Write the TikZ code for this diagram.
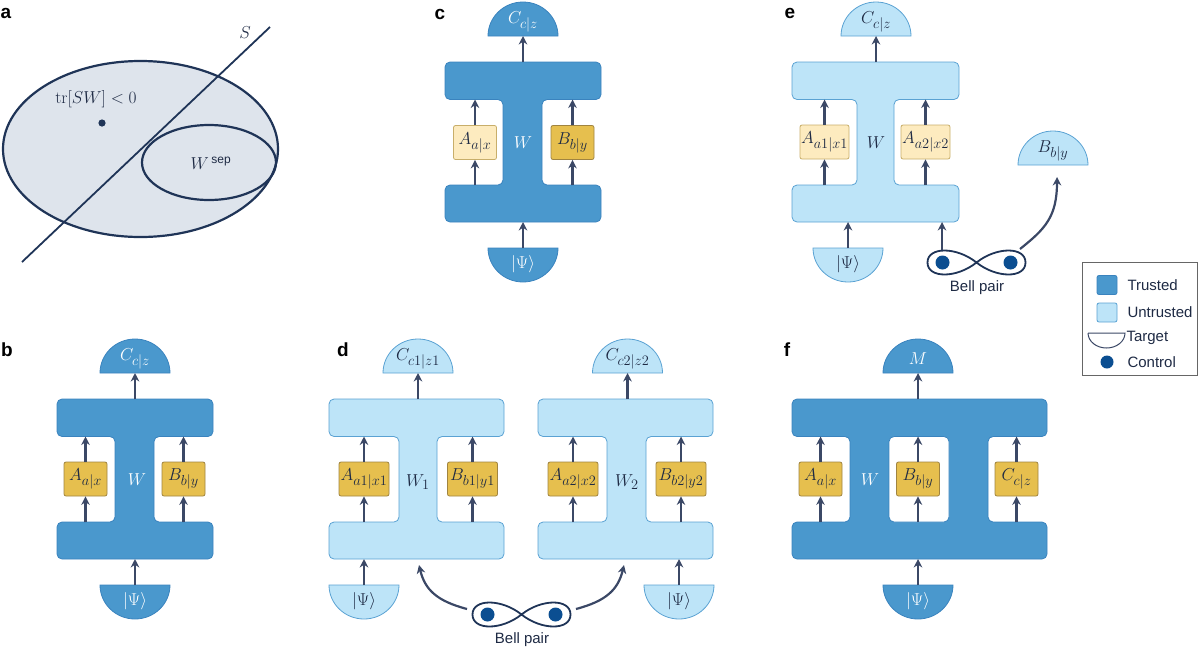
\documentclass[tikz,border=0pt]{standalone}
\usepackage{fontspec}
\setsansfont{Liberation Sans}
\usepackage{tikz}
\usetikzlibrary{arrows.meta}
\DeclareMathSizes{17}{17.28}{14.4}{12}

\definecolor{trust}{HTML}{4A98CD}
\definecolor{trustline}{HTML}{3A83BE}
\definecolor{untrust}{HTML}{BDE4F8}
\definecolor{untrustline}{HTML}{5AA2D3}
\definecolor{gold}{HTML}{E6BF4E}
\definecolor{goldline}{HTML}{A08440}
\definecolor{pale}{HTML}{FDEBBF}
\definecolor{paleline}{HTML}{C8AE6A}
\definecolor{arrowc}{HTML}{3B4866}
\definecolor{navy}{HTML}{1F3457}
\definecolor{dotc}{HTML}{0B4E91}
\definecolor{afill}{HTML}{DEE4EC}
\definecolor{inkdark}{HTML}{1E2A44}

% I-shaped process: style, left, right, top, stem left, stem right, name
\newcommand{\ibeam}[7]{%
  \path[#1, rounded corners=5pt] (#2,#4) -- (#3,#4) -- (#3,#4+37.5) -- (#6,#4+37.5)
    -- (#6,#4+123) -- (#3,#4+123) -- (#3,#4+160) -- (#2,#4+160) -- (#2,#4+123)
    -- (#5,#4+123) -- (#5,#4+37.5) -- (#2,#4+37.5) -- cycle;
  \coordinate (#7o) at (#2,#4);
  \coordinate (#7t) at (#2,#4+37.5);
  \coordinate (#7b) at (#2,#4+123);
  \coordinate (#7i) at (#2,#4+160);}
% half discs: style, name, centre x, chord y, text
\newcommand{\domeup}[5]{%
  \path[#1] (#3-35,#4) arc[start angle=180, end angle=360, x radius=35, y radius=34] -- cycle;
  \coordinate (#2-b) at (#3,#4);
  \node[#1, draw=none, fill=none] (#2) at (#3,#4-14) {#5};}
\newcommand{\domedn}[5]{%
  \path[#1] (#3-35,#4) arc[start angle=180, end angle=0, x radius=35, y radius=34] -- cycle;
  \coordinate (#2-b) at (#3,#4);
  \node[#1, draw=none, fill=none] (#2) at (#3,#4+16) {#5};}
% figure-eight with two dots: name, centre x, centre y
\newcommand{\bellpair}[3]{%
  \coordinate (#1) at (#2,#3);
  \draw[navy, line width=1.8pt] (#2,#3) .. controls (#2+20,#3-16) and (#2+49,#3-16) .. (#2+49,#3)
     .. controls (#2+49,#3+16) and (#2+20,#3+16) .. (#2,#3)
     .. controls (#2-20,#3-16) and (#2-49,#3-16) .. (#2-49,#3)
     .. controls (#2-49,#3+16) and (#2-20,#3+16) .. (#2,#3);
  \fill[dotc] (#2-34,#3) circle[radius=7];
  \fill[dotc] (#2+34,#3) circle[radius=7];}

\begin{document}
\begin{tikzpicture}[
  x=1pt, y=-1pt,
  font=\fontsize{17}{20}\selectfont,
  trusted/.style={fill=trust, draw=trustline, line width=0.8pt, text=white},
  untrusted/.style={fill=untrust, draw=untrustline, line width=0.8pt, text=inkdark},
  gbox/.style={draw=goldline, fill=gold, rounded corners=2pt, line width=0.8pt,
               minimum width=43pt, minimum height=34pt, inner sep=0pt, text=inkdark},
  pbox/.style={gbox, draw=paleline, fill=pale},
  arr/.style={-{Stealth[length=8.5pt,width=8.5pt]}, line width=2.2pt, draw=arrowc},
  setline/.style={draw=navy, line width=2.2pt},
  lbl/.style={font=\fontsize{19}{20}\selectfont\sffamily\bfseries, text=black},
  word/.style={font=\fontsize{15}{18}\selectfont\sffamily, text=inkdark},
  legsq/.style={rounded corners=2pt, minimum width=20pt, minimum height=19pt, inner sep=0pt}
]
\useasboundingbox (0,0) rectangle (1200,649);

% panel a: witness and separable set
\node[lbl] (la) at (6,13) {a};
\draw[setline, fill=afill] (140.5,149) ellipse [x radius=137.5, y radius=88];
\draw[setline] (209,162.5) ellipse [x radius=67, y radius=37.5];
\coordinate (s0) at (22,262); \coordinate (s1) at (270,27);
\draw[setline, line width=1.8pt] (s0) -- (s1);
\node[text=inkdark] (Slab) at (245,33) {$S$};
\node[text=inkdark] (trSW) at (96,99) {$\mathrm{tr}[SW]<0$};
\fill[navy] (102,123) circle[radius=3.6];
\node[text=inkdark] (Wsep) at (211,163) {$W^{\,\textsf{\fontsize{12}{12}\selectfont sep}}$};

% panel b
\node[lbl] (lb) at (7,350) {b};
\ibeam{trusted}{57}{213}{399}{115}{154}{b}
\node[text=white] (bW) at (137,480) {$W$};
\node[gbox] (bA) at (85.5,479) {$A_{a|x}$};
\node[gbox] (bB) at (183.5,479) {$B_{b|y}$};
\domeup{trusted}{bC}{135}{373}{$C_{c|z}$}
\domedn{trusted}{bP}{135}{585}{$|\Psi\rangle$}
\draw[arr] (bA |- bb) -- (bA); \draw[arr] (bA) -- (bA |- bt);
\draw[arr] (bB |- bb) -- (bB); \draw[arr] (bB) -- (bB |- bt);
\draw[arr] (bC-b |- bo) -- (bC-b); \draw[arr] (bP-b) -- (bP-b |- bi);

% panel c
\node[lbl] (lc) at (440,14) {c};
\ibeam{trusted}{445}{601}{62}{503}{542}{c}
\node[text=white] (cW) at (523,143) {$W$};
\node[pbox] (cA) at (475,142.5) {$A_{a|x}$};
\node[gbox] (cB) at (572.5,142.5) {$B_{b|y}$};
\domeup{trusted}{cC}{523}{36}{$C_{c|z}$}
\domedn{trusted}{cP}{523}{248}{$|\Psi\rangle$}
\draw[arr] (cA |- cb) -- (cA); \draw[arr] (cA) -- (cA |- ct);
\draw[arr] (cB |- cb) -- (cB); \draw[arr] (cB) -- (cB |- ct);
\draw[arr] (cC-b |- co) -- (cC-b); \draw[arr] (cP-b) -- (cP-b |- ci);

% panel d: two untrusted processes sharing a Bell pair
\node[lbl] (ld) at (343,350) {d};
\ibeam{untrusted}{329}{504}{399}{399}{437}{dl}
\ibeam{untrusted}{538}{713}{399}{607}{646}{dr}
\node[text=inkdark] (dW1) at (418,482) {$W_1$};
\node[text=inkdark] (dW2) at (627,482) {$W_2$};
\node[gbox, minimum width=50pt] (dA1) at (364,479) {$A_{a1|x1}$};
\node[gbox, minimum width=50pt] (dB1) at (472.5,479) {$B_{b1|y1}$};
\node[gbox, minimum width=50pt] (dA2) at (573,479) {$A_{a2|x2}$};
\node[gbox, minimum width=50pt] (dB2) at (681,479) {$B_{b2|y2}$};
\domeup{untrusted}{dC1}{418}{373}{$C_{c1|z1}$}
\domeup{untrusted}{dC2}{627.5}{373}{$C_{c2|z2}$}
\domedn{untrusted}{dP1}{364}{585}{$|\Psi\rangle$}
\domedn{untrusted}{dP2}{679}{585}{$|\Psi\rangle$}
\bellpair{dBell}{521.5}{614.5}
\node[word] (dBellT) at (522,640) {Bell pair};
\draw[arr] (dA1 |- dlb) -- (dA1); \draw[arr] (dA1) -- (dA1 |- dlt);
\draw[arr] (dB1 |- dlb) -- (dB1); \draw[arr] (dB1) -- (dB1 |- dlt);
\draw[arr] (dA2 |- drb) -- (dA2); \draw[arr] (dA2) -- (dA2 |- drt);
\draw[arr] (dB2 |- drb) -- (dB2); \draw[arr] (dB2) -- (dB2 |- drt);
\draw[arr] (dC1-b |- dlo) -- (dC1-b); \draw[arr] (dC2-b |- dro) -- (dC2-b);
\draw[arr] (dP1-b) -- (dP1-b |- dli); \draw[arr] (dP2-b) -- (dP2-b |- dri);
\coordinate (dBl) at (467,609); \coordinate (dTl) at (419,565);
\coordinate (dBr) at (576,609); \coordinate (dTr) at (624,565);
\draw[arr] (dBl) .. controls +(-30,-8) and +(6,25) .. (dTl);
\draw[arr] (dBr) .. controls +(30,-8) and +(-6,25) .. (dTr);

% panel e: Bob outside the process
\node[lbl] (le) at (790,13) {e};
\ibeam{untrusted}{792}{959}{62}{857}{894}{e}
\node[text=inkdark] (eW) at (876,143) {$W$};
\node[pbox, minimum width=49pt] (eA1) at (824.5,142) {$A_{a1|x1}$};
\node[pbox, minimum width=49pt] (eA2) at (925.5,142) {$A_{a2|x2}$};
\domeup{untrusted}{eC}{876}{36}{$C_{c|z}$}
\domedn{untrusted}{eP}{848}{248}{$|\Psi\rangle$}
\domeup{untrusted}{eB}{1053}{165}{$B_{b|y}$}
\bellpair{eBell}{976.5}{262.5}
\node[word] (eBellT) at (977,288) {Bell pair};
\draw[arr] (eA1 |- eb) -- (eA1); \draw[arr] (eA1) -- (eA1 |- et);
\draw[arr] (eA2 |- eb) -- (eA2); \draw[arr] (eA2) -- (eA2 |- et);
\draw[arr] (eC-b |- eo) -- (eC-b); \draw[arr] (eP-b) -- (eP-b |- ei);
\coordinate (eBl) at (942,250);
\draw[arr] (eBl) -- (eBl |- ei);
\coordinate (eBr) at (1020,249); \coordinate (eBtip) at (1057,177);
\draw[arr] (eBr) .. controls +(25,-20) and +(0,40) .. (eBtip);

% panel f: three parties in one trusted process
\node[lbl] (lf) at (787,350) {f};
\path[trusted, rounded corners=5pt] (792,399) -- (1047,399) -- (1047,436.5) -- (988,436.5)
  -- (988,522) -- (1047,522) -- (1047,559) -- (792,559) -- (792,522) -- (850,522)
  -- (850,436.5) -- (792,436.5) -- cycle;
\draw[draw=trustline, line width=0.8pt, fill=white, rounded corners=5pt] (889,436.5) rectangle (949,522);
\coordinate (fo) at (792,399); \coordinate (ft) at (792,436.5);
\coordinate (fb) at (792,522); \coordinate (fi) at (792,559);
\node[text=white] (fW) at (870,480) {$W$};
\node[gbox] (fA) at (820.5,479) {$A_{a|x}$};
\node[gbox] (fB) at (918,479) {$B_{b|y}$};
\node[gbox] (fC) at (1016.5,479) {$C_{c|z}$};
\domeup{trusted}{fM}{918}{373}{$M$}
\domedn{trusted}{fP}{918}{585}{$|\Psi\rangle$}
\draw[arr] (fA |- fb) -- (fA); \draw[arr] (fA) -- (fA |- ft);
\draw[arr] (fB |- fb) -- (fB); \draw[arr] (fB) -- (fB |- ft);
\draw[arr] (fC |- fb) -- (fC); \draw[arr] (fC) -- (fC |- ft);
\draw[arr] (fM-b |- fo) -- (fM-b); \draw[arr] (fP-b) -- (fP-b |- fi);

% legend
\node[draw=gray!80!black, line width=0.8pt, minimum width=115pt, minimum height=113pt] (legend) at (1139.5,318.5) {};
\node[legsq, trusted] (lgT) at (1107,285) {};
\node[word, anchor=west] (lgTt) at (1124,285) {Trusted};
\node[legsq, untrusted] (lgU) at (1107,312.5) {};
\node[word, anchor=west] (lgUt) at (1124,312.5) {Untrusted};
\draw[arrowc, line width=1pt] (1088,333) -- (1125,333) arc[start angle=0, end angle=180, x radius=18.5, y radius=15];
\node[word, anchor=west] (lgGt) at (1123,338) {Target};
\fill[dotc] (1107,362) circle[radius=6.5];
\node[word, anchor=west] (lgCt) at (1124,362) {Control};
\end{tikzpicture}
\end{document}
